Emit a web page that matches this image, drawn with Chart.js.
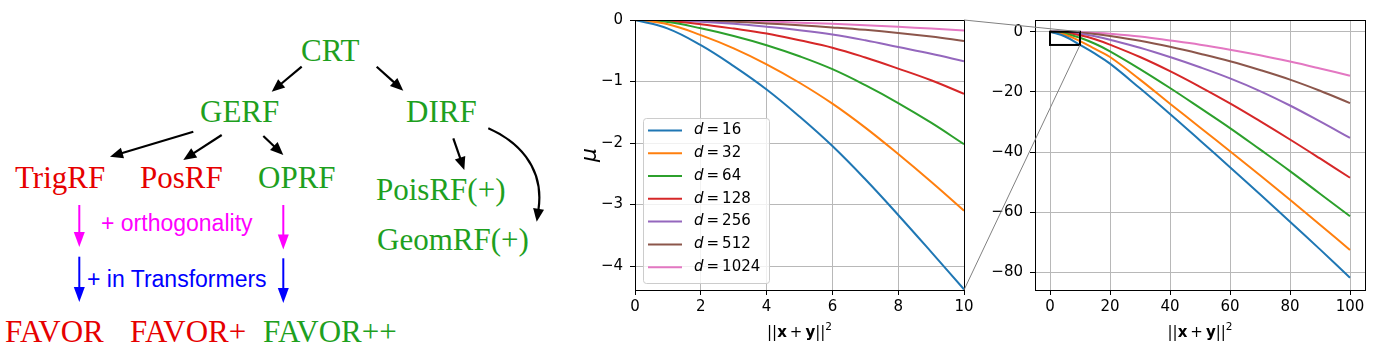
<!DOCTYPE html>
<html>
<head>
<meta charset="utf-8">
<script src="https://cdn.jsdelivr.net/npm/chart.js@4.4.1/dist/chart.umd.min.js"></script>
<style>
  html, body { margin: 0; padding: 0; background: #fff; }
  #wrap { position: relative; width: 1380px; height: 356px; overflow: hidden; }
  #diagram { position: absolute; left: 0; top: 0; }
  #near { position: absolute; left: 560px; top: 0; }
  #far { position: absolute; left: 960px; top: 0; }
  #links { position: absolute; left: 0; top: 0; pointer-events: none; }
  .serif { font-family: "Liberation Serif", "Times New Roman", serif; font-size: 31px; }
  .sans { font-family: "Liberation Sans", Arial, sans-serif; font-size: 23px; }
</style>
</head>
<body>
<div id="wrap">
  <svg id="diagram" width="560" height="356" xmlns="http://www.w3.org/2000/svg">
    <text class="serif" x="301" y="61" fill="#1ea01e">CRT</text>
    <text class="serif" x="200" y="122" fill="#1ea01e">GERF</text>
    <text class="serif" x="406" y="122" fill="#1ea01e">DIRF</text>
    <text class="serif" x="15" y="188" fill="#e60000">TrigRF</text>
    <text class="serif" x="140" y="188" fill="#e60000">PosRF</text>
    <text class="serif" x="258" y="188" fill="#1ea01e">OPRF</text>
    <text class="serif" x="376" y="200" fill="#1ea01e">PoisRF(+)</text>
    <text class="serif" x="377" y="250" fill="#1ea01e">GeomRF(+)</text>
    <text class="sans" x="101" y="231" fill="#ff00ff">+ orthogonality</text>
    <text class="sans" x="87" y="287" fill="#0000ff">+ in Transformers</text>
    <text class="serif" x="5" y="342" fill="#e60000">FAVOR</text>
    <text class="serif" x="130" y="342" fill="#e60000">FAVOR+</text>
    <text class="serif" x="263" y="342" fill="#1ea01e">FAVOR++</text>
  </svg>
  <canvas id="near" width="420" height="356"></canvas>
  <canvas id="far" width="420" height="356"></canvas>
  <canvas id="links" width="1380" height="356"></canvas>
</div>
<script>
// values
const dims = ['16', '32', '64', '128', '256', '512', '1024'];

const xNear = [0, 1, 2, 3, 4, 5, 6, 7, 8, 9, 10];
const muNear16 = [0, -0.14, -0.41, -0.75, -1.13, -1.57, -2.05, -2.59, -3.17, -3.77, -4.38];
const muNear32 = [0, -0.068, -0.245, -0.46, -0.72, -1.02, -1.36, -1.75, -2.18, -2.63, -3.10];
const muNear64 = [0, -0.034, -0.135, -0.26, -0.41, -0.59, -0.80, -1.06, -1.35, -1.67, -2.02];
const muNear128 = [0, -0.018, -0.07, -0.14, -0.22, -0.33, -0.45, -0.61, -0.79, -0.98, -1.20];
const muNear256 = [0, -0.007, -0.028, -0.062, -0.11, -0.165, -0.235, -0.33, -0.44, -0.55, -0.67];
const muNear512 = [0, -0.003, -0.014, -0.03, -0.055, -0.085, -0.12, -0.16, -0.21, -0.27, -0.34];
const muNear1024 = [0, -0.002, -0.007, -0.015, -0.027, -0.043, -0.062, -0.085, -0.11, -0.14, -0.17];

const xFar = [0, 5, 10, 15, 20, 30, 40, 50, 60, 70, 80, 90, 100];
const muFar16 = [0, -1.57, -4.38, -7.3, -10.6, -18.8, -27.3, -36.1, -45.0, -54.0, -63.1, -72.3, -81.7];
const muFar32 = [0, -1.02, -3.10, -5.7, -8.4, -15.9, -23.9, -31.8, -39.7, -47.7, -55.8, -64.1, -72.5];
const muFar64 = [0, -0.59, -2.02, -4.0, -6.5, -12.4, -18.7, -25.3, -32.0, -39.1, -46.3, -53.8, -61.3];
const muFar128 = [0, -0.33, -1.20, -2.5, -4.3, -8.4, -13.1, -18.3, -23.8, -29.7, -35.8, -42.1, -48.5];
const muFar256 = [0, -0.165, -0.67, -1.5, -2.65, -5.3, -8.4, -11.8, -15.5, -19.7, -24.5, -29.8, -35.3];
const muFar512 = [0, -0.085, -0.34, -0.78, -1.4, -3.0, -5.0, -7.3, -9.8, -12.7, -15.9, -19.6, -23.7];
const muFar1024 = [0, -0.043, -0.17, -0.38, -0.68, -1.6, -2.9, -4.3, -5.95, -7.8, -9.9, -12.2, -14.6];

const nearXTicks = [0, 2, 4, 6, 8, 10];
const nearYTicks = [0, -1, -2, -3, -4];
const farXTicks = [0, 20, 40, 60, 80, 100];
const farYTicks = [0, -20, -40, -60, -80];

const nearRange = { xMin: 0, xMax: 10, yMin: -4.39, yMax: 0 };
const farRange = { xMin: -5, xMax: 105, yMin: -85.8, yMax: 3.9 };

const colors = ['#1f77b4', '#ff7f0e', '#2ca02c', '#d62728', '#9467bd', '#8c564b', '#e377c2'];
const FONT = '"DejaVu Sans", sans-serif';

Chart.defaults.font.family = FONT;
Chart.defaults.font.size = 15;
Chart.defaults.color = '#000';

// ---------- left diagram arrows ----------
const svg = document.getElementById('diagram');
function svgEl(tag, attrs) {
  const el = document.createElementNS('http://www.w3.org/2000/svg', tag);
  for (const k in attrs) el.setAttribute(k, attrs[k]);
  svg.appendChild(el);
  return el;
}
function head(x, y, dx, dy, color, len, wid) {
  const n = Math.hypot(dx, dy), ux = dx / n, uy = dy / n;
  const bx = x - ux * len, by = y - uy * len;
  const pts = [[x, y], [bx - uy * wid / 2, by + ux * wid / 2], [bx + uy * wid / 2, by - ux * wid / 2]];
  svgEl('polygon', { points: pts.map(p => p.join(',')).join(' '), fill: color });
  return [bx + ux * 1, by + uy * 1];
}
function arrow(x1, y1, x2, y2, color, len, wid, lw) {
  const b = head(x2, y2, x2 - x1, y2 - y1, color, len, wid);
  svgEl('line', { x1: x1, y1: y1, x2: b[0], y2: b[1], stroke: color, 'stroke-width': lw });
}
arrow(301.7, 66.7, 271.7, 91.7, '#000', 13, 11, 2.2);
arrow(376.7, 66.7, 403.3, 90.7, '#000', 13, 11, 2.2);
arrow(193.3, 131.7, 110, 156.7, '#000', 13, 11, 2.2);
arrow(221.7, 135, 183.3, 160, '#000', 13, 11, 2.2);
arrow(263.3, 136, 283.3, 155, '#000', 13, 11, 2.2);
arrow(453.3, 138.3, 464.3, 170, '#000', 13, 11, 2.2);
arrow(79.3, 205, 79.3, 247, '#ff00ff', 15, 11, 2);
arrow(283.3, 205, 283.3, 249.5, '#ff00ff', 15, 11, 2);
arrow(79.3, 256.7, 79.3, 302, '#0000ff', 15, 11, 2);
arrow(283.3, 258.3, 283.3, 303, '#0000ff', 15, 11, 2);
// curved arrow DIRF -> GeomRF
(function () {
  const tip = [536.7, 221.7], c2 = [545, 165];
  const b = head(tip[0], tip[1], tip[0] - c2[0], tip[1] - c2[1], '#000', 13, 11);
  svgEl('path', {
    d: 'M488.3,128.3 C515,140 545,165 ' + b[0] + ',' + b[1],
    stroke: '#000', 'stroke-width': 2.2, fill: 'none'
  });
})();

// ---------- charts ----------
function series(xs, ys) {
  return xs.map((x, i) => ({ x: x, y: ys[i] }));
}
function minusLabel(v) {
  return v < 0 ? '\u2212' + Math.abs(v) : String(v);
}

function drawXTitle(ctx, cx, baseline) {
  const runs = [
    { t: '||', f: '15px ' + FONT },
    { t: 'x', f: 'bold 15px ' + FONT },
    { t: '\u2009+\u2009', f: '15px ' + FONT },
    { t: 'y', f: 'bold 15px ' + FONT },
    { t: '||', f: '15px ' + FONT },
    { t: '2', f: '10.5px ' + FONT, dy: -7 }
  ];
  let w = 0;
  runs.forEach(r => { ctx.font = r.f; r.w = ctx.measureText(r.t).width; w += r.w; });
  let x = cx - w / 2;
  ctx.fillStyle = '#000';
  ctx.textAlign = 'left';
  ctx.textBaseline = 'alphabetic';
  runs.forEach(r => { ctx.font = r.f; ctx.fillText(r.t, x, baseline + (r.dy || 0)); x += r.w; });
}

function drawLegend(chart) {
  const ctx = chart.ctx, a = chart.chartArea;
  const w = 126, h = 165, l = a.left + 8, t = a.bottom - 7 - h;
  ctx.save();
  ctx.beginPath();
  ctx.roundRect(l + 0.5, t + 0.5, w, h, 3);
  ctx.fillStyle = 'rgba(255,255,255,0.8)';
  ctx.fill();
  ctx.strokeStyle = '#cccccc';
  ctx.lineWidth = 1;
  ctx.stroke();
  chart.data.datasets.forEach((ds, i) => {
    const cy = t + 12.4 + i * 22.8;
    ctx.beginPath();
    ctx.moveTo(l + 5, cy);
    ctx.lineTo(l + 39, cy);
    ctx.strokeStyle = ds.borderColor;
    ctx.lineWidth = 2;
    ctx.stroke();
    ctx.fillStyle = '#000';
    ctx.textBaseline = 'middle';
    ctx.textAlign = 'left';
    let x = l + 51;
    ctx.font = 'italic 15px ' + FONT;
    ctx.fillText('d', x, cy);
    x += ctx.measureText('d').width + 3;
    ctx.font = '15px ' + FONT;
    ctx.fillText('=', x, cy);
    x += ctx.measureText('=').width + 3;
    ctx.fillText(dims[i], x, cy);
  });
  ctx.restore();
}

const decorations = {
  id: 'decorations',
  afterDatasetsDraw(chart) {
    const ctx = chart.ctx, a = chart.chartArea;
    ctx.save();
    ctx.strokeStyle = '#000';
    ctx.lineWidth = 1;
    ctx.strokeRect(Math.round(a.left) + 0.5, Math.round(a.top) + 0.5,
      Math.round(a.right - a.left), Math.round(a.bottom - a.top));
    ctx.restore();
    const kind = chart.canvas.id;
    if (kind === 'far') {
      const sx = chart.scales.x, sy = chart.scales.y;
      const x0 = sx.getPixelForValue(nearRange.xMin), x1 = sx.getPixelForValue(nearRange.xMax);
      const y0 = sy.getPixelForValue(nearRange.yMax), y1 = sy.getPixelForValue(nearRange.yMin);
      ctx.save();
      ctx.strokeStyle = '#000';
      ctx.lineWidth = 2;
      ctx.strokeRect(x0, y0, x1 - x0, y1 - y0);
      ctx.restore();
    }
    if (kind === 'near') {
      drawLegend(chart);
      ctx.save();
      ctx.translate(30, (a.top + a.bottom) / 2);
      ctx.rotate(-Math.PI / 2);
      ctx.font = 'italic 22px ' + FONT;
      ctx.fillStyle = '#000';
      ctx.textAlign = 'center';
      ctx.textBaseline = 'middle';
      ctx.fillText('\u03bc', 0, 0);
      ctx.restore();
    }
    ctx.save();
    drawXTitle(ctx, (a.left + a.right) / 2, a.bottom + 47);
    ctx.restore();
  }
};

function makeChart(id, xs, ys, range, xTicks, yTicks, padRight) {
  return new Chart(document.getElementById(id), {
    type: 'line',
    data: {
      datasets: ys.map((arr, i) => ({
        label: 'd = ' + dims[i],
        data: series(xs, arr),
        borderColor: colors[i],
        backgroundColor: colors[i],
        borderWidth: 2,
        pointRadius: 0,
        tension: 0.4,
        fill: false
      }))
    },
    options: {
      responsive: false,
      animation: false,
      devicePixelRatio: 1,
      events: [],
      layout: { padding: { left: 0, top: 20, right: padRight, bottom: 0 } },
      plugins: { legend: { display: false }, tooltip: { enabled: false } },
      scales: {
        x: {
          type: 'linear',
          min: range.xMin,
          max: range.xMax,
          afterBuildTicks: s => { s.ticks = xTicks.map(v => ({ value: v })); },
          afterFit: s => { s.height = 66; },
          grid: { color: '#b8b8b8', lineWidth: 1, tickColor: '#000', tickLength: 5 },
          border: { color: '#000', width: 1 },
          ticks: { padding: 3, maxRotation: 0, autoSkip: false, callback: minusLabel, font: { size: 15 } }
        },
        y: {
          type: 'linear',
          min: range.yMin,
          max: range.yMax,
          afterBuildTicks: s => { s.ticks = yTicks.map(v => ({ value: v })); },
          afterFit: s => { s.width = 75; },
          grid: { color: '#b8b8b8', lineWidth: 1, tickColor: '#000', tickLength: 5 },
          border: { color: '#000', width: 1 },
          ticks: { padding: 7, autoSkip: false, callback: minusLabel, font: { size: 15 } }
        }
      }
    },
    plugins: [decorations]
  });
}

const nearChart = makeChart('near', xNear,
  [muNear16, muNear32, muNear64, muNear128, muNear256, muNear512, muNear1024],
  nearRange, nearXTicks, nearYTicks, 16);
const farChart = makeChart('far', xFar,
  [muFar16, muFar32, muFar64, muFar128, muFar256, muFar512, muFar1024],
  farRange, farXTicks, farYTicks, 15);

// connector lines between the zoomed panel and the box in the wide panel
(function () {
  const ctx = document.getElementById('links').getContext('2d');
  const a = nearChart.chartArea;
  const sx = farChart.scales.x, sy = farChart.scales.y;
  const nearLeft = 560, farLeft = 960;
  const bx = farLeft + sx.getPixelForValue(nearRange.xMax);
  const byTop = sy.getPixelForValue(nearRange.yMax);
  const byBot = sy.getPixelForValue(nearRange.yMin);
  ctx.strokeStyle = '#808080';
  ctx.lineWidth = 1;
  ctx.beginPath();
  ctx.moveTo(nearLeft + a.right, a.top);
  ctx.lineTo(bx, byTop);
  ctx.moveTo(nearLeft + a.right, a.bottom);
  ctx.lineTo(bx, byBot);
  ctx.stroke();
})();
</script>
</body>
</html>
